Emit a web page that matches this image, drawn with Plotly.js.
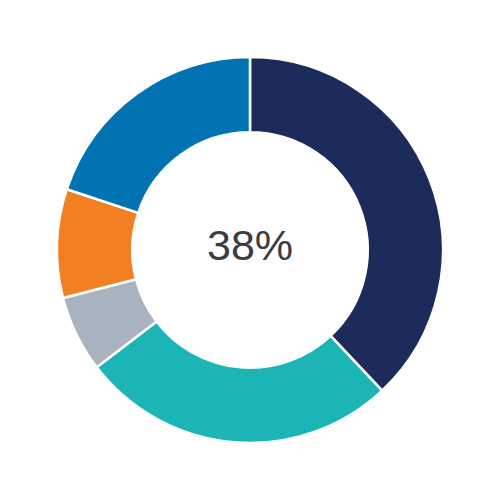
<!DOCTYPE html>
<html>
<head>
<meta charset="utf-8">
<script src="https://cdn.plot.ly/plotly-3.0.1.min.js"></script>
<style>html,body{margin:0;padding:0;background:#fff;}#chart{width:500px;height:500px;}</style>
</head>
<body>
<div id="chart"></div>
<script>
var categories = ["Segment A", "Segment B", "Segment C", "Segment D", "Segment E"];
var values = [38, 26.6, 6.4, 9.1, 19.9];
var colors = ["#1c2b5a", "#1cb5b6", "#a9b3bf", "#f28022", "#0273b2"];
var centerLabel = "38%";

var data = [{
  type: "pie",
  labels: categories,
  values: values,
  hole: 0.61,
  sort: false,
  direction: "clockwise",
  rotation: 0,
  textinfo: "none",
  hoverinfo: "label+percent",
  marker: {colors: colors, line: {color: "#ffffff", width: 2.5}}
}];

var layout = {
  width: 500, height: 500,
  margin: {l: 57, r: 57, t: 57, b: 57},
  showlegend: false,
  paper_bgcolor: "#ffffff",
  annotations: [{
    text: centerLabel, x: 0.5, y: 0.5, xref: "paper", yref: "paper",
    showarrow: false, yshift: 5,
    font: {family: "Liberation Sans, Arial, sans-serif", size: 43, color: "#3a3d42"}
  }]
};
Plotly.newPlot("chart", data, layout, {displayModeBar: false, staticPlot: true});
</script>
</body>
</html>
